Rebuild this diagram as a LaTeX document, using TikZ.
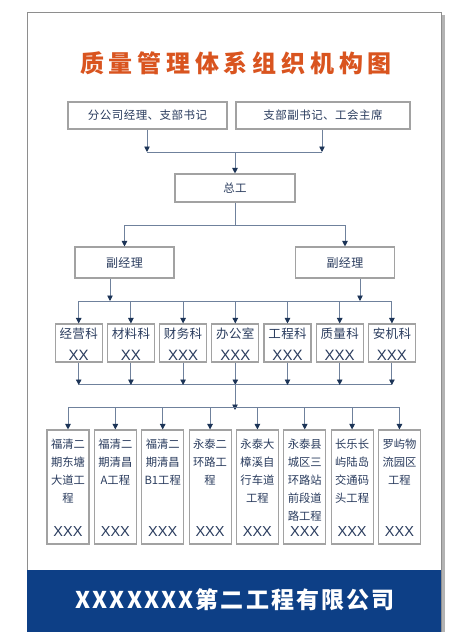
\documentclass[tikz,border=0pt]{standalone}
\usepackage{fontspec}
\setmainfont{Liberation Sans}
\newfontfamily\cjk{Noto Sans CJK SC}
\newfontfamily\cjktitle[LetterSpace=20]{Noto Sans CJK SC}
\newfontfamily\cjkband[LetterSpace=9]{Noto Sans CJK SC}
\newfontfamily\cjktop[LetterSpace=4]{Noto Sans CJK SC}
\newfontfamily\cjksec[LetterSpace=3]{Noto Sans CJK SC}
\usetikzlibrary{arrows.meta}
\definecolor{titleorange}{HTML}{D9541F}
\definecolor{bandblue}{HTML}{0D3F86}
\definecolor{textnavy}{HTML}{2A3C5E}
\definecolor{tipnavy}{HTML}{1C3457}
\definecolor{linegray}{HTML}{6F819C}
\definecolor{boxgray}{HTML}{A2A2A2}
\definecolor{framegray}{HTML}{8E8E8E}
\definecolor{shadowgray}{HTML}{B3B3B3}
\tikzset{
  box/.style={draw=boxgray, line width=1.1pt, fill=white, inner sep=0pt, text=textnavy},
  topbox/.style={box, minimum height=27pt, font=\cjktop\fontsize{11.5}{13}\selectfont},
  secbox/.style={box, minimum width=47pt, minimum height=38pt},
  projbox/.style={box, minimum width=42pt, minimum height=114pt},
  sectext/.style={inner sep=0pt, text=textnavy, font=\cjksec\fontsize{12.5}{14}\selectfont},
  xtext/.style={inner sep=0pt, text=textnavy, font=\fontsize{15}{17}\selectfont},
  projtext/.style={inner sep=0pt, anchor=north, align=center, text=textnavy, font=\cjk\fontsize{11.3}{18}\selectfont},
  conn/.style={draw=linegray, line width=0.9pt},
  arr/.style={conn, -{Triangle[width=5.5pt,length=5.5pt,color=tipnavy]}},
}
\begin{document}
\begin{tikzpicture}[x=1pt,y=-1pt]
\useasboundingbox (0,0) rectangle (474,632);
% frame and shadow
\fill[shadowgray] (441,15) rectangle (445,632);
\draw[framegray, line width=1pt, fill=white] (27,12) rectangle (441,640);
\fill[bandblue] (27,570) rectangle (441,632);
% title
\node[text=titleorange, font=\cjktitle\bfseries\fontsize{24}{26}\selectfont] (title) at (236,63) {质量管理体系组织机构图};
% top level
\node[topbox, minimum width=159pt] (top1) at (147.5,115.5) {分公司经理、支部书记};
\node[topbox, minimum width=174pt] (top2) at (323,115.5) {支部副书记、工会主席};
\node[topbox, minimum width=120pt, minimum height=28pt] (zg) at (235,188) {总工};
\coordinate (j1a) at (147,152);
\coordinate (j1b) at (322,152);
\coordinate (j1c) at (235,152);
\draw[arr] (top1.south -| j1a) -- (j1a);
\draw[arr] (top2.south -| j1b) -- (j1b);
\draw[conn] (j1a) -- (j1b);
\draw[arr] (j1c) -- (zg.north);
% deputy managers
\node[topbox, minimum width=99pt, minimum height=31pt, font=\cjksec\fontsize{12}{14}\selectfont] (fu1) at (124.5,262.5) {副经理};
\node[topbox, minimum width=99pt, minimum height=31pt, font=\cjksec\fontsize{12}{14}\selectfont] (fu2) at (345,262.5) {副经理};
\coordinate (j2c) at (235,225);
\coordinate (j2a) at (124.5,225);
\coordinate (j2b) at (345,225);
\draw[conn] (zg.south) -- (j2c);
\draw[conn] (j2a) -- (j2b);
\draw[arr] (j2a) -- (fu1.north);
\draw[arr] (j2b) -- (fu2.north);
% sections
\coordinate (j3a) at (110,301);
\coordinate (j3b) at (360,301);
\draw[arr] (fu1.south -| j3a) -- (j3a);
\draw[arr] (fu2.south -| j3b) -- (j3b);
\coordinate (j3l) at (78.7,301);
\coordinate (j3r) at (392,301);
\draw[conn] (j3l) -- (j3r);
\coordinate (j4l) at (78.7,384);
\coordinate (j4r) at (392,384);
\coordinate (j4c) at (235,384);
\draw[conn] (j4l) -- (j4r);
\foreach \i/\nm/\xx in {0/经营科/XX, 1/材料科/XX, 2/财务科/XXX, 3/办公室/XXX, 4/工程科/XXX, 5/质量科/XXX, 6/安机科/XXX}{
  \pgfmathsetmacro{\cx}{78.7+52.2*\i}
  \node[secbox] (s\i) at (\cx,343) {};
  \node[sectext] (sn\i) at (\cx,334) {\nm};
  \node[xtext] (sx\i) at (\cx,355.5) {\xx};
  \draw[arr] (s\i.north |- j3l) -- (s\i.north);
  \draw[arr] (s\i.south) -- ([yshift=-1pt]s\i.south |- j4l);
}
% projects
\coordinate (j5c) at (235,407);
\coordinate (j5l) at (68,407);
\coordinate (j5r) at (399.5,407);
\draw[arr] (j4c) -- ([yshift=-3pt]j5c);
\draw[conn] (j5l) -- (j5r);
\foreach \i/\txt in {0/{福清二\\期东塘\\大道工\\程}, 1/{福清二\\期清昌\\A工程}, 2/{福清二\\期清昌\\B1工程}, 3/{永泰二\\环路工\\程}, 4/{永泰大\\樟溪自\\行车道\\工程}, 5/{永泰县\\城区三\\环路站\\前段道\\路工程}, 6/{长乐长\\屿陆岛\\交通码\\头工程}, 7/{罗屿物\\流园区\\工程}}{
  \pgfmathsetmacro{\cx}{68+47.35*\i}
  \node[projbox] (p\i) at (\cx,487) {};
  \node[projtext] (pt\i) at (\cx,438.5) {\txt};
  \node[xtext, font=\fontsize{14.5}{16}\selectfont] (px\i) at (\cx,532) {XXX};
  \draw[arr] (p\i.north |- j5l) -- (p\i.north);
}
% company band
\node[text=white, font=\cjkband\bfseries\fontsize{23}{25}\selectfont] (company) at (235,600) {XXXXXXX第二工程有限公司};
\end{tikzpicture}
\end{document}
